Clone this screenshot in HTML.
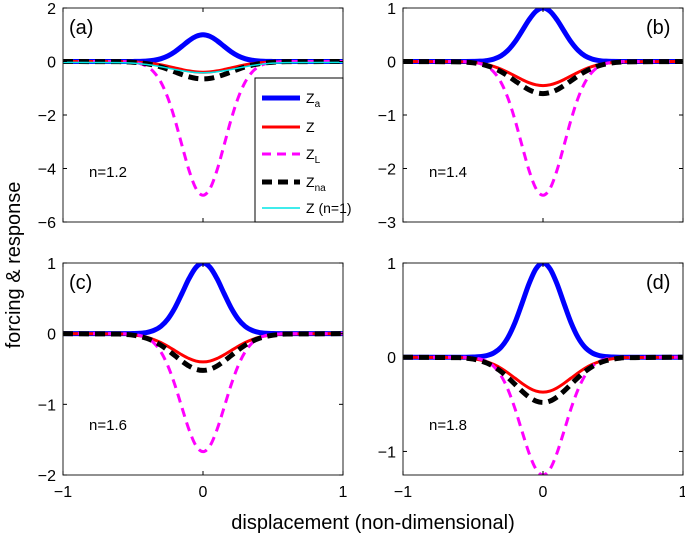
<!DOCTYPE html>
<html><head><meta charset="utf-8"><style>
html,body{margin:0;padding:0;background:#fff;}
svg{display:block;font-family:"Liberation Sans",sans-serif;}
</style></head><body>
<svg id="fig" width="685" height="538" viewBox="0 0 685 538">
<text x="20" y="265" font-size="20" text-anchor="middle" transform="rotate(-90 20 265)">forcing &amp; response</text>
<text x="373" y="529" font-size="20" text-anchor="middle">displacement (non-dimensional)</text>
</svg>
<script>
const xs = [-1,-0.6,-0.55,-0.5,-0.45,-0.4,-0.35,-0.3,-0.25,-0.2,-0.15,-0.1,-0.05,0,0.05,0.1,0.15,0.2,0.25,0.3,0.35,0.4,0.45,0.5,0.55,0.6,1];
const profA = [0,0,0,0.002,0.006,0.018,0.047,0.105,0.21,0.368,0.57,0.779,0.939,1,0.939,0.779,0.57,0.368,0.21,0.105,0.047,0.018,0.006,0.002,0,0,0];
const profL = [0,0,0.002,0.006,0.015,0.037,0.08,0.156,0.275,0.437,0.628,0.813,0.95,1,0.95,0.813,0.628,0.437,0.275,0.156,0.08,0.037,0.015,0.006,0.002,0,0];
const profB = [0,0.01,0.021,0.041,0.076,0.13,0.21,0.317,0.451,0.6,0.75,0.88,0.969,1,0.969,0.88,0.75,0.6,0.451,0.317,0.21,0.13,0.076,0.041,0.021,0.01,0];
const profC = [0.08,0.1,0.12,0.15,0.2,0.27,0.36,0.47,0.59,0.71,0.82,0.91,0.98,1,0.98,0.91,0.82,0.71,0.59,0.47,0.36,0.27,0.2,0.15,0.12,0.1,0.08];
const panelLabels = ["(a)","(b)","(c)","(d)"];
const nLabels = ["n=1.2","n=1.4","n=1.6","n=1.8"];
const peakA = [1,1,1,1];
const peakZ = [-0.4,-0.45,-0.4,-0.37];
const peakL = [-5,-2.5,-1.67,-1.25];
const peakNa = [-0.65,-0.6,-0.52,-0.48];
const peakN1 = [-0.42];
const yMin = [-6,-3,-2,-1.25];
const yMax = [2,1,1,1];
const yTicks = [[2,0,-2,-4,-6],[1,0,-1,-2,-3],[1,0,-1,-2],[1,0,-1]];
const xTicks = [-1,0,1];

const svg = document.getElementById('fig');
const NS = 'http://www.w3.org/2000/svg';
const boxes = [[63,8,343,222],[403,8,683,222],[63,263,343,475],[403,263,683,475]];
function mk(tag, attrs, parent){const e=document.createElementNS(NS,tag);for(const k in attrs)e.setAttribute(k,attrs[k]);(parent||svg).appendChild(e);return e;}

function curve(g, sx, sy, prof, peak, color, w, dash, name){
  const pts = xs.map((x,i)=>[sx(x), sy(peak*prof[i])]);
  let d='M'+pts[0][0]+','+pts[0][1];
  for(let i=0;i<pts.length-1;i++){
    const p0=pts[Math.max(0,i-1)],p1=pts[i],p2=pts[i+1],p3=pts[Math.min(pts.length-1,i+2)];
    const c1=[p1[0]+(p2[0]-p0[0])/6,p1[1]+(p2[1]-p0[1])/6];
    const c2=[p2[0]-(p3[0]-p1[0])/6,p2[1]-(p3[1]-p1[1])/6];
    d+=` C${c1[0]},${c1[1]} ${c2[0]},${c2[1]} ${p2[0]},${p2[1]}`;
  }
  const p=mk('path',{d:d,fill:'none',stroke:color,'stroke-width':w},g);
  if(dash)p.setAttribute('stroke-dasharray',dash);
  
  
}

boxes.forEach((b,k)=>{
  const [x0,y0,x1,y1]=b;
  const sx=x=>x0+(x+1)/2*(x1-x0);
  const sy=y=>y0+(yMax[k]-y)/(yMax[k]-yMin[k])*(y1-y0);
  const g=mk('g',{});
  
  
  const cp=mk('clipPath',{id:'c'+k},g);mk('rect',{x:x0,y:y0,width:x1-x0,height:y1-y0},cp);
  const cg=mk('g',{'clip-path':'url(#c'+k+')'},g);
  curve(cg,sx,sy,profA,peakA[k],'#0000ff',5,null,'series-za');
  curve(cg,sx,sy,profB,peakZ[k],'#ff0000',3,null,'series-z');
  curve(cg,sx,sy,profL,peakL[k],'#ff00ff',3,'9,6','series-zl');
  curve(cg,sx,sy,profB,peakNa[k],'#000000',5,'10,6','series-zna');
  if(k===0) curve(cg,sx,sy,profC,peakN1[0],'#00e5e5',1.5,null,'series-z-n1');
  const r=mk('rect',{x:x0,y:y0,width:x1-x0,height:y1-y0,fill:'none',stroke:'#222','stroke-width':1},g);
  
  
  yTicks[k].forEach(v=>{
    const y=sy(v);
    mk('line',{x1:x0,x2:x0+4,y1:y,y2:y,stroke:'#000'},g);
    mk('line',{x1:x1,x2:x1-4,y1:y,y2:y,stroke:'#000'},g);
    const t=mk('text',{x:x0-7,y:y+6,'font-size':16,'text-anchor':'end'},g);
    t.textContent=String(v).replace('-','\u2212');
    
    
  });
  xTicks.forEach(v=>{
    const x=sx(v);
    mk('line',{x1:x,x2:x,y1:y1,y2:y1-4,stroke:'#000'},g);
    mk('line',{x1:x,x2:x,y1:y0,y2:y0+4,stroke:'#000'},g);
    if(k>=2){
      const t=mk('text',{x:x,y:y1+22,'font-size':16,'text-anchor':'middle'},g);
      t.textContent=String(v).replace('-','\u2212');
      
      
    }
  });
  const pl=mk('text',{x:k%2? x1-37 : x0+6,y:y0+26,'font-size':20},g);
  pl.textContent=panelLabels[k];
  
  
  const nl=mk('text',{x:x0+26,y:y1-45,'font-size':15},g);
  nl.textContent=nLabels[k];
  
  
});

const lg=mk('g',{});


mk('rect',{x:255,y:78,width:88,height:144,fill:'#fff',stroke:'#000','stroke-width':1},lg);
const legItems=[['Z','a','#0000ff',5,null,98],['Z','','#ff0000',3,null,127],['Z','L','#ff00ff',3,'9,6',154],['Z','na','#000',5,'10,6',182],['Z (n=1)','','#00e5e5',1.5,null,208]];
legItems.forEach(it=>{
  const l=mk('line',{x1:262,x2:300,y1:it[5],y2:it[5],stroke:it[2],'stroke-width':it[3]},lg);
  if(it[4])l.setAttribute('stroke-dasharray',it[4]);
  const t=mk('text',{x:306,y:it[5]+5,'font-size':14},lg);
  t.textContent=it[0];
  if(it[1]){const s=mk('tspan',{dy:4,'font-size':10},t);s.textContent=it[1];}
  
  
});
</script>
</body></html>
